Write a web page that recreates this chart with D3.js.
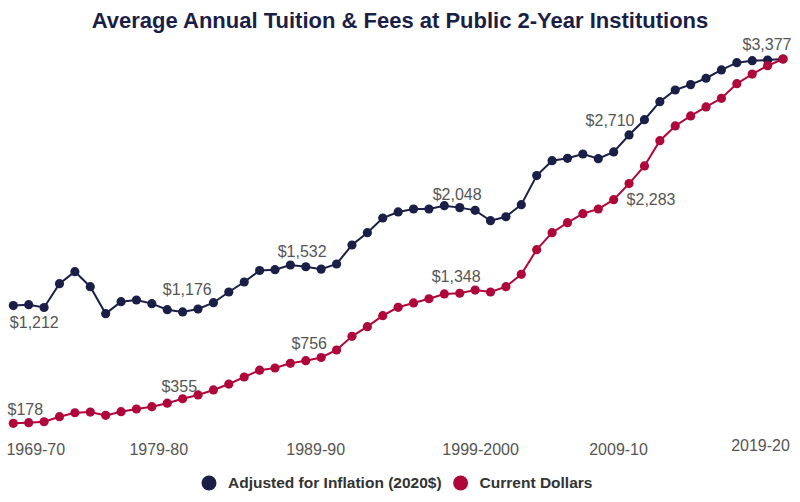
<!DOCTYPE html>
<html>
<head>
<meta charset="utf-8">
<script src="https://cdn.jsdelivr.net/npm/d3@7"></script>
<style>
  body { margin: 0; background: #fff; }
  text { font-family: Arial, "Liberation Sans", sans-serif; }
</style>
</head>
<body>
<div class="canvas"></div>
<script>
// school years, 1969-70 .. 2019-20
const years = d3.range(1969, 2020).map(y => {
    const next = (y + 1) % 100;
    return y === 1999 ? '1999-2000' : `${y}-${String(next).padStart(2, '0')}`;
});

// average tuition & fees, 2020 dollars
const adjusted = [
    1212, 1220, 1195, 1404, 1510, 1378, 1141, 1246, 1261, 1229,
    1176, 1156, 1182, 1237, 1331, 1419, 1520, 1527, 1568, 1553,
    1532, 1577, 1744, 1852, 1981, 2034, 2060, 2060, 2089, 2072,
    2048, 1957, 1992, 2098, 2353, 2484, 2505, 2543, 2502, 2561,
    2710, 2844, 3002, 3105, 3152, 3208, 3281, 3345, 3362, 3368,
    3377
];

// average tuition & fees, current dollars
const current = [
    178, 184, 192, 236, 271, 277, 248, 280, 304, 324,
    355, 394, 427, 471, 523, 585, 645, 664, 705, 728,
    756, 822, 942, 1027, 1123, 1197, 1235, 1272, 1314, 1320,
    1348, 1331, 1378, 1486, 1703, 1852, 1940, 2019, 2060, 2142,
    2283, 2438, 2660, 2789, 2877, 2956, 3032, 3160, 3245, 3318,
    3377
];

// which points get a value label, and tick years
const labelIdx = [0, 10, 20, 30, 40, 50];
const tickYears = ['1969-70', '1979-80', '1989-90', '1999-2000', '2009-10', '2019-20'];

// label nudges (px) for each series, same order as labelIdx
const adjLabelPos = [[21, 17], [20, -20], [-19, -18], [-18, -16], [-19, -15], [-16, -15]];
const curLabelPos = [[12, -14], [12, -17], [-12, -14], [-19, -14], [22, 16]];
const tickShift = [22, -9, -6, 5, -11, -23];

const dims = { width: 800, height: 502 };
const colors = { adj: '#1b1f47', cur: '#b0073b' };

const svg = d3.select('.canvas')
    .append('svg')
    .attr('width', dims.width)
    .attr('height', dims.height);

// title
svg.append('text')
    .attr('x', 400)
    .attr('y', 28)
    .attr('text-anchor', 'middle')
    .attr('font-size', 22)
    .attr('font-weight', 'bold')
    .attr('fill', colors.adj)
    .text('Average Annual Tuition & Fees at Public 2-Year Institutions');

const x = d3.scalePoint()
    .domain(years)
    .range([13.3, 783]);

const y = d3.scaleLinear()
    .domain([0, 3377])
    .range([443.6, 59]);

// x axis, labels only
const xAxis = d3.axisBottom(x)
    .tickValues(tickYears)
    .tickSize(0)
    .tickPadding(0);

const gx = svg.append('g')
    .attr('transform', 'translate(0, 455)')
    .call(xAxis);
gx.select('.domain').remove();
gx.selectAll('text')
    .attr('dy', 0)
    .attr('dx', (d, i) => tickShift[i])
    .attr('y', (d, i) => i === 5 ? -4 : 0)
    .attr('font-size', 16)
    .attr('font-family', 'Arial, "Liberation Sans", sans-serif')
    .attr('fill', '#555');

const line = d3.line()
    .x((d, i) => x(years[i]))
    .y(d => y(d));

const series = [
    { key: 'adj', values: adjusted, pos: adjLabelPos, labels: labelIdx },
    { key: 'cur', values: current, pos: curLabelPos, labels: labelIdx.slice(0, 5) }
];

series.forEach(s => {
    const g = svg.append('g');
    g.append('path')
        .datum(s.values)
        .attr('fill', 'none')
        .attr('stroke', colors[s.key])
        .attr('stroke-width', 2)
        .attr('d', line);

    g.selectAll('circle')
        .data(s.values)
        .enter()
        .append('circle')
        .attr('cx', (d, i) => x(years[i]))
        .attr('cy', d => y(d))
        .attr('r', 4.6)
        .attr('fill', colors[s.key]);
});

// value labels
series.forEach(s => {
    svg.append('g')
        .selectAll('text')
        .data(s.labels)
        .enter()
        .append('text')
        .attr('x', (idx, i) => x(years[idx]) + s.pos[i][0])
        .attr('y', (idx, i) => y(s.values[idx]) + s.pos[i][1])
        .attr('dy', '0.35em')
        .attr('text-anchor', 'middle')
        .attr('font-size', 16)
        .attr('fill', '#555')
        .text(idx => '$' + d3.format(',')(s.values[idx]));
});

// legend
const legendItems = [
    { label: 'Adjusted for Inflation (2020$)', color: colors.adj },
    { label: 'Current Dollars', color: colors.cur }
];
const legend = svg.append('g').attr('transform', 'translate(209, 483)');
let lx = 0;
legendItems.forEach(item => {
    const g = legend.append('g').attr('transform', `translate(${lx}, 0)`);
    g.append('circle').attr('r', 7.5).attr('fill', item.color);
    const t = g.append('text')
        .attr('x', 19)
        .attr('dy', '0.35em')
        .attr('font-size', 15.5)
        .attr('font-weight', 'bold')
        .attr('fill', '#333')
        .text(item.label);
    lx += 19 + t.node().getComputedTextLength() + 19;
});
</script>
</body>
</html>
